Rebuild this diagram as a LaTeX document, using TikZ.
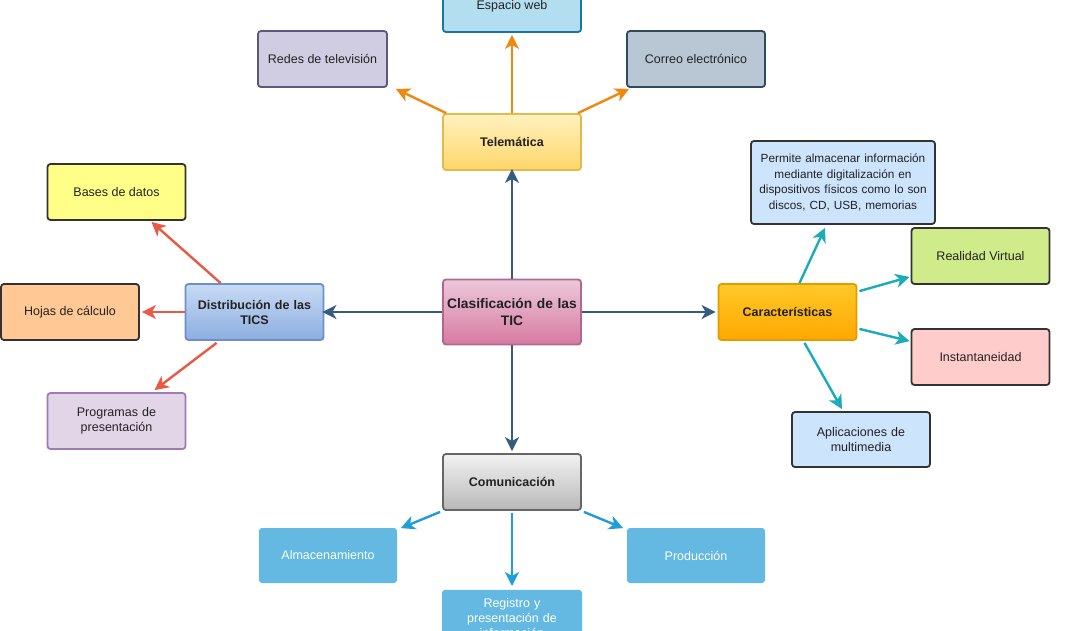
\documentclass[tikz,border=0pt]{standalone}
\usepackage{fontspec}
\setmainfont{Liberation Sans}
\usetikzlibrary{arrows.meta}
\definecolor{txt}{HTML}{222222}
\definecolor{dkblue}{HTML}{375A7F}
\definecolor{orng}{HTML}{F0870F}
\definecolor{redd}{HTML}{E85A43}
\definecolor{teal}{HTML}{1AACB8}
\definecolor{skyb}{HTML}{1E9FD8}
\definecolor{lb}{HTML}{63B9E1}
\tikzset{
  box/.style={rounded corners=3pt, line width=1.8pt, minimum width=138pt, minimum height=56pt,
    align=center, text=txt, font=\fontsize{12.5}{15}\selectfont, inner sep=2pt},
  dbox/.style={box, draw=black!80},
  hbox/.style={box, font=\fontsize{12.5}{15}\selectfont\bfseries},
  lbox/.style={box, draw=none, fill=lb, text=white},
  arr/.style={line width=2.4pt, -{Stealth[length=14pt,width=14pt,inset=4pt]}},
}
\begin{document}
\begin{tikzpicture}[x=1pt,y=-1pt]
\useasboundingbox (0,0) rectangle (1080,630);
\clip (0,0) rectangle (1080,630);
\fill[white] (0,0) rectangle (1080,630);
% central
\node[hbox, draw={rgb,255:red,177;green,104;blue,142}, top color={rgb,255:red,236;green,200;blue,218}, bottom color={rgb,255:red,214;green,122;blue,160}, minimum height=65pt, text width=134pt, font=\fontsize{13.8}{17}\selectfont\bfseries] (clas) at (512,312) {Clasificación de las\\TIC};
% telematica branch
\node[hbox, draw={rgb,255:red,227;green,185;blue,77}, top color={rgb,255:red,255;green,242;blue,190}, bottom color={rgb,255:red,253;green,214;blue,106}] (tel) at (512,142) {Telemática};
\node[box, draw={rgb,255:red,22;green,120;blue,160}, fill={rgb,255:red,178;green,222;blue,240}, text depth=0pt] (web) at (512,4) {\raisebox{-2pt}{Espacio web}};
\node[box, draw={rgb,255:red,94;green,85;blue,128}, fill={rgb,255:red,208;green,205;blue,227}, minimum width=129pt] (redes) at (322.5,59) {Redes de televisión};
\node[box, draw={rgb,255:red,45;green,74;blue,94}, fill={rgb,255:red,184;green,199;blue,211}] (correo) at (696,59) {Correo electrónico};
% distribucion branch
\node[hbox, draw={rgb,255:red,109;green,143;blue,199}, top color={rgb,255:red,200;green,218;blue,243}, bottom color={rgb,255:red,140;green,174;blue,224}, text width=134pt] (dist) at (254.5,312) {Distribución de las\\TICS};
\node[dbox, fill={rgb,255:red,255;green,255;blue,136}] (bases) at (116.5,192) {Bases de datos};
\node[dbox, fill={rgb,255:red,255;green,200;blue,148}] (hojas) at (70,312) {Hojas de cálculo};
\node[box, draw={rgb,255:red,160;green,122;blue,181}, fill={rgb,255:red,226;green,213;blue,232}, text width=134pt] (prog) at (116.5,421) {Programas de\\presentación};
% caracteristicas branch
\node[hbox, draw={rgb,255:red,224;green,156;blue,0}, top color={rgb,255:red,255;green,200;blue,40}, bottom color={rgb,255:red,255;green,168;blue,0}] (car) at (787.5,312) {Características};
\node[dbox, fill={rgb,255:red,204;green,228;blue,252}, minimum width=184pt, minimum height=83pt, text width=180pt, font=\fontsize{11.8}{15.5}\selectfont] (perm) at (843,182.5) {Permite almacenar información\\mediante digitalización en\\dispositivos físicos como lo son\\discos, CD, USB, memorias};
\node[dbox, fill={rgb,255:red,208;green,235;blue,138}] (real) at (980.5,256) {Realidad Virtual};
\node[dbox, fill={rgb,255:red,255;green,204;blue,204}] (inst) at (980.5,357) {Instantaneidad};
\node[dbox, fill={rgb,255:red,204;green,228;blue,252}, minimum height=55pt, text width=134pt] (apl) at (861,439.5) {Aplicaciones de\\multimedia};
% comunicacion branch
\node[hbox, draw={rgb,255:red,102;green,102;blue,102}, top color={rgb,255:red,242;green,242;blue,242}, bottom color={rgb,255:red,184;green,184;blue,184}] (com) at (512,482) {Comunicación};
\node[lbox, minimum height=55pt] (alm) at (328,555.5) {Almacenamiento};
\node[lbox, minimum height=55pt] (prod) at (696,555.5) {Producción};
\node[lbox, text width=134pt, anchor=north, minimum height=56pt, inner sep=3pt] (reg) at (512,589) {Registro y\\presentación de\\información};
% connectors from center
\draw[arr, dkblue] (clas.north) -- ([yshift=2pt]tel.south);
\draw[arr, dkblue] (clas.west) -- ([xshift=-2pt]dist.east);
\draw[arr, dkblue] (clas.east) -- ([xshift=-2pt]car.west);
\draw[arr, dkblue] (clas.south) -- ([yshift=2pt]com.north);
% telematica
\draw[arr, orng] ([xshift=4pt]tel.north west) -- ([xshift=8pt,yshift=-1pt]redes.south east);
\draw[arr, orng] (tel.north) -- ([yshift=-2pt]web.south);
\draw[arr, orng] ([xshift=-4pt]tel.north east) -- ([xshift=3pt,yshift=-1pt]correo.south west);
% distribucion
\draw[arr, redd] ([xshift=36pt]dist.north west) -- ([xshift=35pt,yshift=-1pt]bases.south);
\draw[arr, redd] (dist.west) -- ([xshift=2pt]hojas.east);
\draw[arr, redd] ([xshift=32pt,yshift=-2pt]dist.south west) -- ([xshift=38pt,yshift=2pt]prog.north);
% caracteristicas
\draw[arr, teal] ([xshift=12pt]car.north) -- ([xshift=-18pt,yshift=-3pt]perm.south);
\draw[arr, teal] ([xshift=2pt,yshift=-8pt]car.north east) -- ([xshift=-1pt,yshift=8pt]real.south west);
\draw[arr, teal] ([xshift=2pt,yshift=12pt]car.south east) -- ([xshift=-1pt,yshift=-13pt]inst.north west);
\draw[arr, teal] ([xshift=17pt,yshift=-2pt]car.south) -- ([xshift=-19pt,yshift=2pt]apl.north);
% comunicacion
\draw[arr, skyb] ([xshift=-2pt,yshift=-1pt]com.south west) -- ([xshift=3pt,yshift=-1pt]alm.north east);
\draw[arr, skyb] ([yshift=-2pt]com.south) -- ([yshift=3pt]reg.north);
\draw[arr, skyb] ([xshift=2pt,yshift=-1pt]com.south east) -- ([xshift=-3pt,yshift=-1pt]prod.north west);
\end{tikzpicture}
\end{document}
